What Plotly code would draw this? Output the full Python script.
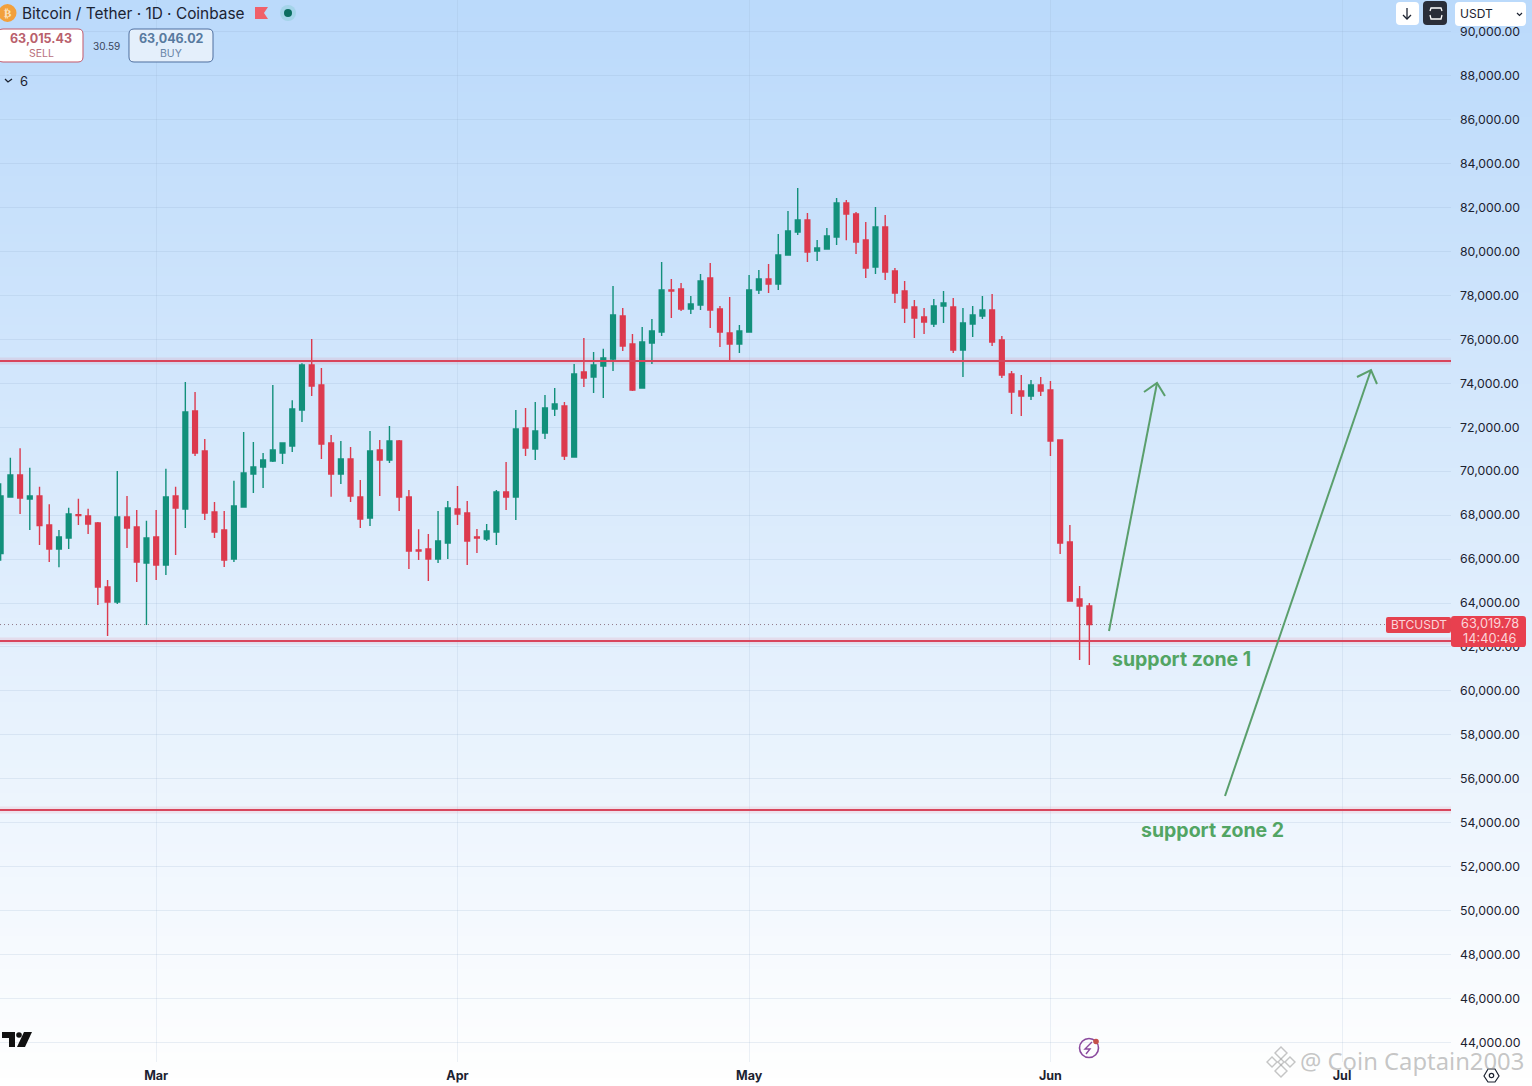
import pandas as pd
import plotly.graph_objects as go

PW, PH = 1451, 1062  # plot area in pixels

dates = pd.date_range("2026-02-13", periods=113, freq="D")

opens = [66246, 68825, 69826, 68734, 68870, 67551, 66458, 66959, 68021, 67960,
         67642, 64729, 64046, 67915, 67460, 65821, 67004, 65730, 68870, 68279,
         72739, 70918, 68142, 67323, 66003, 68370, 69872, 70190, 70463, 70827,
         71146, 72784, 74832, 73922, 71282, 69872, 70554, 68825, 67869, 70964,
         70509, 71373, 68825, 66413, 66458, 66003, 66731, 68279, 68097, 67004,
         66913, 67232, 69052, 68825, 71965, 71009, 71737, 72830, 72966, 70645,
         74514, 74286, 74787, 75105, 77062, 75788, 73786, 75833, 76334, 78245,
         78291, 77381, 77563, 78792, 77381, 76289, 75788, 76334, 78245, 78746,
         78518, 79838, 80884, 81430, 80020, 80111, 80657, 82204, 81704, 80520,
         79292, 81112, 79109, 78199, 77471, 77016, 76697, 77517, 77471, 75514,
         76697, 77062, 77335, 75969, 74422, 73648, 73421, 73921, 73694, 71418,
         66776, 64182, 63864]
highs = [69447, 70615, 71040, 70160, 69295, 68491, 67323, 68339, 68749, 68294,
         67687, 65047, 70008, 68870, 68233, 67748, 68233, 70114, 69295, 74058,
         73603, 71464, 68597, 68188, 69568, 71783, 71328, 70827, 73922, 71282,
         73224, 74908, 76015, 74696, 71646, 71373, 71100, 69598, 71828, 71419,
         72056, 71419, 69143, 67353, 67141, 68188, 68643, 69325, 68643, 67369,
         67596, 69143, 70418, 72784, 72875, 73148, 73467, 73785, 73148, 74878,
         76061, 75424, 75576, 78428, 77426, 76243, 76562, 76926, 79520, 78746,
         78564, 77972, 78974, 79474, 77517, 77927, 76653, 78928, 79156, 79429,
         80793, 81840, 82887, 81749, 80520, 81066, 82432, 82341, 81795, 81339,
         82022, 81658, 79246, 78654, 77790, 77426, 77835, 78199, 77881, 77426,
         77517, 77972, 78063, 76151, 74559, 74377, 74149, 74286, 74103, 71418,
         67550, 64774, 64000]
lows = [65927, 68825, 68051, 67323, 66640, 65867, 65624, 66458, 67551, 67141,
        63910, 62499, 63955, 66504, 64956, 63000, 65047, 65275, 66185, 67414,
        70691, 67778, 66959, 65639, 65867, 68370, 69007, 69234, 70418, 70327,
        70873, 72238, 73421, 70554, 68840, 69416, 68597, 67414, 67505, 68870,
        70372, 68188, 65548, 65958, 65002, 65821, 66003, 67551, 65730, 66276,
        66822, 66640, 68233, 67778, 70691, 70509, 71464, 72511, 70509, 70645,
        73831, 73558, 73330, 74559, 75469, 73649, 73786, 74878, 76152, 76971,
        77290, 77153, 77335, 76516, 75651, 75060, 75378, 76334, 78063, 78109,
        78245, 79838, 80748, 79519, 79565, 80111, 80293, 80505, 79883, 78791,
        78973, 78700, 77653, 76743, 76060, 76242, 76561, 76743, 75378, 74285,
        76106, 76925, 75696, 74240, 72602, 72511, 73239, 73421, 70690, 66230,
        64091, 61406, 61179]
closes = [68870, 69826, 68779, 68870, 67520, 66458, 67004, 68051, 67975, 67596,
          64729, 64046, 67915, 67414, 65867, 66959, 65730, 68825, 68324, 72693,
          70827, 68097, 67232, 65958, 68415, 69917, 70190, 70509, 70964, 71282,
          72830, 74832, 73876, 71237, 69872, 70554, 68870, 67824, 70918, 70509,
          71373, 68825, 66367, 66367, 66003, 66822, 68324, 68051, 66822, 66959,
          67277, 69052, 68825, 71920, 71055, 71828, 72875, 73057, 70691, 74423,
          74241, 74832, 75151, 77108, 75697, 73694, 75879, 76380, 78245, 78200,
          77381, 77608, 78655, 77335, 76334, 75788, 76380, 78245, 78746, 78519,
          79838, 80930, 81430, 79974, 80156, 80702, 82204, 81704, 80429, 79246,
          81112, 79064, 78108, 77426, 76971, 76788, 77517, 77653, 75514, 76743,
          77107, 77335, 75878, 74376, 73603, 73421, 73921, 73648, 71373, 66731,
          64091, 63864, 63020]

levels = [75014, 62271, 54580]
last_price = 63019.78
price_ticks = list(range(44000, 92000, 2000))
month_ticks = ["2026-03-01", "2026-04-01", "2026-05-01", "2026-06-01", "2026-07-01"]
month_labels = ["Mar", "Apr", "May", "Jun", "Jul"]
UP = "#12907b"
DOWN = "#dc3a4e"
LINE = "#d8455c"
ARROW = "#5a9f6c"
TEXT_GREEN = "#52a564"
INK = "#1c2230"


def fx(x):
    return x / PW


def fy(y):
    return 1 - y / PH


def path(*cmds):
    # pixel commands -> paper coordinates
    out = []
    for c in cmds:
        if isinstance(c, str):
            out.append(c)
        else:
            out.append(f"{fx(c[0]):.5f},{fy(c[1]):.5f}")
    return " ".join(out)


def line_path(points, close=False):
    cmds = ["M", points[0]]
    for p in points[1:]:
        cmds += ["L", p]
    if close:
        cmds.append("Z")
    return path(*cmds)


def rrect(x0, y0, x1, y1, r):
    return path("M", (x0 + r, y0), "L", (x1 - r, y0), "Q", (x1, y0), (x1, y0 + r),
                "L", (x1, y1 - r), "Q", (x1, y1), (x1 - r, y1),
                "L", (x0 + r, y1), "Q", (x0, y1), (x0, y1 - r),
                "L", (x0, y0 + r), "Q", (x0, y0), (x0 + r, y0), "Z")


shapes = []


def add_path(d, fill="rgba(0,0,0,0)", color="rgba(0,0,0,0)", width=0, layer="above"):
    shapes.append(dict(type="path", xref="paper", yref="paper", path=d, fillcolor=fill,
                       line=dict(color=color, width=width), layer=layer))


def add_circle(cx, cy, r, fill="rgba(0,0,0,0)", color="rgba(0,0,0,0)", width=0):
    shapes.append(dict(type="circle", xref="paper", yref="paper", x0=fx(cx - r), x1=fx(cx + r),
                       y0=fy(cy + r), y1=fy(cy - r), fillcolor=fill,
                       line=dict(color=color, width=width), layer="above"))


# background gradient
bands = 130
for i in range(bands):
    t = i / (bands - 1)
    c = (int(187 + 68 * t), int(218 + 37 * t), int(251 + 4 * t))
    shapes.append(dict(type="rect", xref="paper", yref="paper", x0=0, x1=1532 / PW,
                       y0=fy(1086 * (i + 1) / bands + 1), y1=fy(1086 * i / bands),
                       fillcolor=f"rgb{c}", line=dict(width=0), layer="below"))

# horizontal levels
for lv in levels:
    shapes.append(dict(type="line", xref="paper", yref="y", x0=0, x1=1, y0=lv, y1=lv,
                       line=dict(color="rgba(240,60,90,0.10)", width=7), layer="below"))
    shapes.append(dict(type="line", xref="paper", yref="y", x0=0, x1=1, y0=lv, y1=lv,
                       line=dict(color=LINE, width=2), layer="above"))
shapes.append(dict(type="line", xref="paper", yref="y", x0=0, x1=1386 / PW, y0=last_price, y1=last_price,
                   line=dict(color="rgba(110,70,85,0.7)", width=1, dash="1px,3px"), layer="above"))

# hand drawn arrows
add_path(line_path([(1109, 631), (1157, 383)]), color=ARROW, width=2)
add_path(line_path([(1144, 392), (1157, 383), (1165, 396)]), color=ARROW, width=2)
add_path(line_path([(1225, 796), (1371, 370)]), color=ARROW, width=2)
add_path(line_path([(1357, 377), (1371, 370), (1377, 384)]), color=ARROW, width=2)

# header pieces
add_circle(7.5, 13, 9, fill="#f2a03c")
add_path(line_path([(255, 7), (268, 7), (264, 13), (268, 19), (255, 19)], True), fill="#f0606a")
add_circle(288, 13, 8, fill="rgba(80,190,170,0.22)")
add_circle(288, 13, 4, fill="#0b6e60")
add_path(rrect(-2, 29, 83, 62, 5), fill="#ffffff", color="#c4586a", width=1)
add_path(rrect(129, 29, 213, 62, 5), fill="#e4effb", color="#4f6f9f", width=1)
add_path(line_path([(5, 79), (8, 82), (12, 79)]), color=INK, width=1.3)

# top right buttons
add_path(rrect(1396, 2, 1419, 25, 4), fill="#ffffff")
add_path(line_path([(1407, 8), (1407, 19)]), color=INK, width=1.3)
add_path(line_path([(1403, 15), (1407, 19), (1411, 15)]), color=INK, width=1.3)
add_path(rrect(1423, 1, 1447, 25, 4), fill="#2a2e39")
add_path(line_path([(1430, 11), (1431, 8), (1441, 8), (1442, 11)]), color="#ffffff", width=1.3)
add_path(line_path([(1430, 15), (1431, 19), (1441, 19), (1442, 15)]), color="#ffffff", width=1.3)
add_path(rrect(1455, 2, 1526, 26, 4), fill="#ffffff")
add_path(line_path([(1517, 13), (1519.5, 15.5), (1522, 13)]), color=INK, width=1.2)

# last price tags
add_path(rrect(1386, 617, 1451, 633, 2), fill="#e5414f")
add_path(rrect(1451, 616, 1526, 647, 3), fill="#e8404f")

# tradingview logo
add_path(line_path([(2, 1032), (15, 1032), (15, 1047), (9, 1047), (9, 1038), (2, 1038)], True), fill="#111111")
add_circle(19, 1035, 2.8, fill="#111111")
add_path(line_path([(24, 1032), (32, 1032), (25, 1047), (17, 1047)], True), fill="#111111")

# bolt badge
add_circle(1089, 1048, 9.5, color="#8a4a9e", width=1.6)
add_path(line_path([(1092, 1042), (1085, 1049), (1090, 1049), (1086, 1054)]), color="#8a4a9e", width=1.4)
add_circle(1096, 1041.5, 2.8, fill="#c4504a")

# settings hexagon
add_path(line_path([(1484, 1076), (1488, 1069), (1495, 1069), (1499, 1076), (1495, 1082), (1488, 1082)], True),
         color=INK, width=1.2)
add_circle(1491.5, 1075.5, 2.2, color=INK, width=1.2)

# watermark diamonds
WM = "rgba(150,150,150,0.55)"
for cx, cy, r in [(1281, 1053, 6), (1272, 1062, 5), (1290, 1062, 5), (1281, 1071, 6), (1281, 1062, 3)]:
    add_path(line_path([(cx - r, cy), (cx, cy - r), (cx + r, cy), (cx, cy + r)], True), color=WM, width=1.4)

annotations = []


def label(x, y, s, size, color=INK, anchor="left", family="Inter"):
    annotations.append(dict(xref="paper", yref="paper", x=fx(x), y=fy(y), text=s, showarrow=False,
                            xanchor=anchor, yanchor="middle", borderpad=0,
                            font=dict(size=size, color=color, family=family)))


label(7.5, 13, "<b>₿</b>", 11, "#fbe3c0", "center", "DejaVu Sans")
label(20.5, 13, "Bitcoin / Tether · 1D · Coinbase", 15.4, "#1b2333")
label(41, 38.5, "<b>63,015.43</b>", 12.5, "#b9606c", "center")
label(41, 53.5, "SELL", 10.5, "#b9707c", "center")
label(106.5, 46, "30.59", 10, "#39455c", "center")
label(171, 38.5, "<b>63,046.02</b>", 12.5, "#587a9f", "center")
label(171, 53.5, "BUY", 10.5, "#6a86a8", "center")
label(19, 81, "6", 13, INK)
label(1459, 13.5, "USDT", 12, INK)
label(1418.5, 624.5, "BTCUSDT", 12, "#fbd5da", "center")
label(1489.5, 623.5, "63,019.78", 12.8, "#fbd5da", "center")
label(1489.5, 638, "14:40:46", 12.8, "#fbd5da", "center")
label(1111, 659, "<b>support zone 1</b>", 19.5, TEXT_GREEN, family="Inter")
label(1140, 830, "<b>support zone 2</b>", 19.5, TEXT_GREEN, family="Inter")
label(1299, 1061, "@ Coin Captain2003", 23.8, WM, family="Noto Sans")

fig = go.Figure(go.Candlestick(
    x=dates, open=opens, high=highs, low=lows, close=closes,
    increasing=dict(line=dict(color=UP, width=1.4), fillcolor=UP),
    decreasing=dict(line=dict(color=DOWN, width=1.4), fillcolor=DOWN),
    whiskerwidth=0,
))

fig.update_layout(
    width=1532, height=1086, showlegend=False,
    margin=dict(l=0, r=81, t=0, b=24, autoexpand=False),
    paper_bgcolor="#ffffff", plot_bgcolor="rgba(0,0,0,0)",
    font=dict(family="Inter", color=INK),
    shapes=shapes, annotations=annotations,
    xaxis=dict(
        range=["2026-02-12 22:25", "2026-07-12 05:00"],
        rangeslider=dict(visible=False),
        tickvals=month_ticks, ticktext=[f"<b>{m}</b>" for m in month_labels],
        tickfont=dict(size=12.5, color=INK), ticks="", ticklabelstandoff=4,
        showgrid=True, gridcolor="rgba(140,165,200,0.16)", gridwidth=1, zeroline=False, showline=False,
    ),
    yaxis=dict(
        side="right", range=[43111, 91443],
        tickvals=price_ticks, tickformat=",.2f",
        tickfont=dict(size=12.3, color=INK), ticks="", ticklabelstandoff=8,
        showgrid=True, gridcolor="rgba(140,165,200,0.18)", gridwidth=1, zeroline=False, showline=False,
    ),
)

fig.write_html("out.html", config={"displayModeBar": False}, post_script="document.body.style.margin='0';")
